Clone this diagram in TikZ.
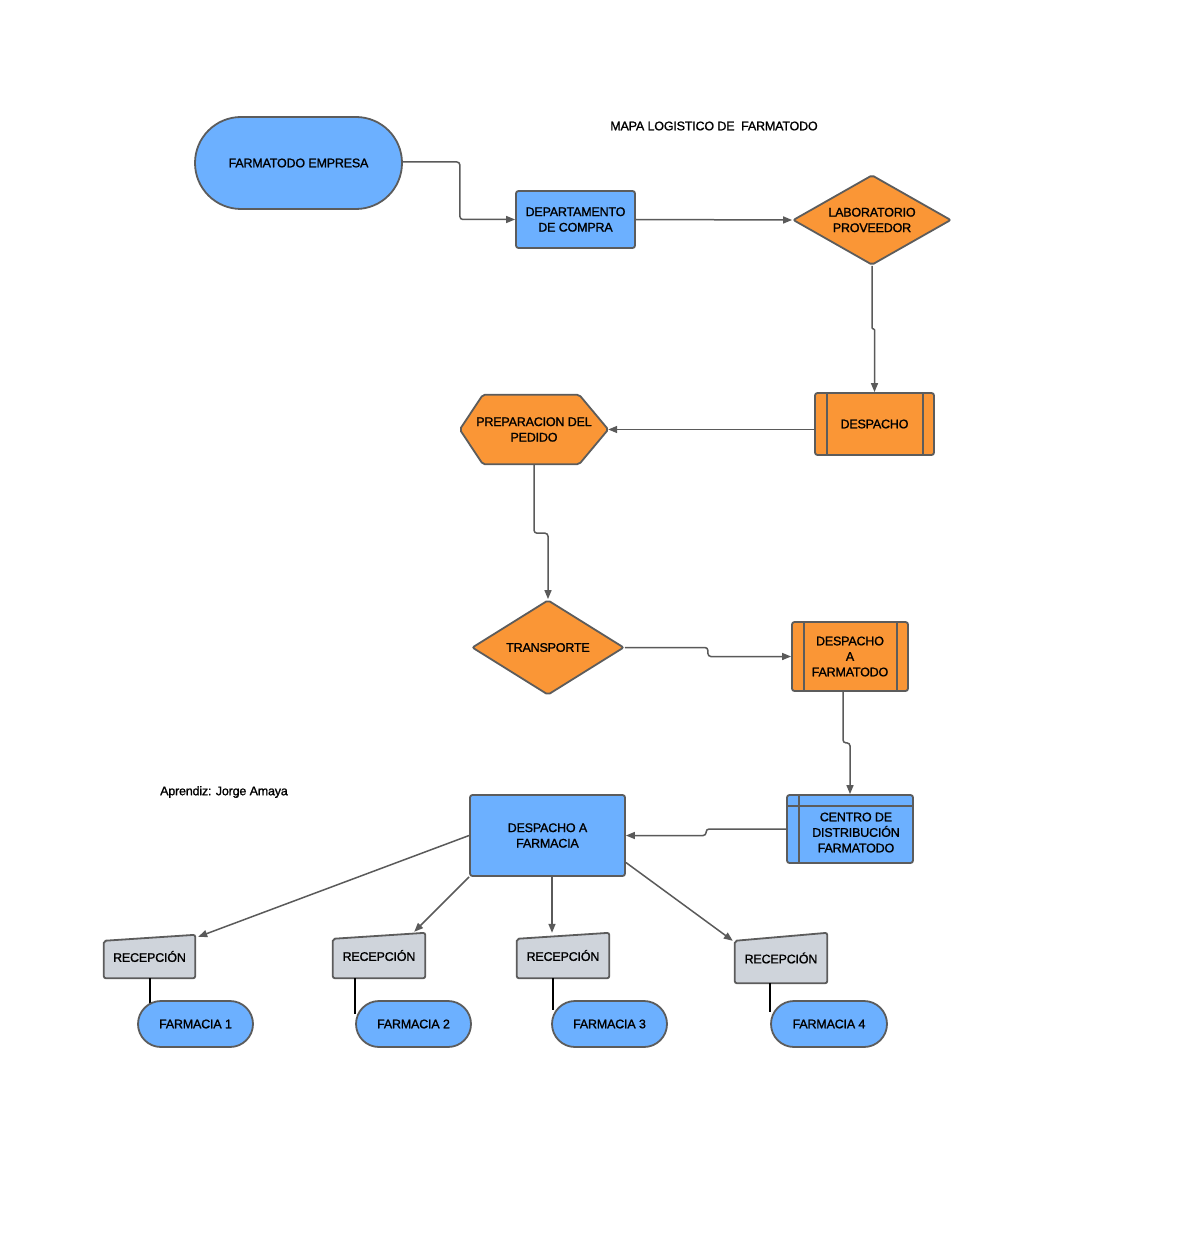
\documentclass[tikz,border=0pt]{standalone}
\usepackage{fontspec}
\setmainfont{Liberation Sans}[FakeBold=1.2,LetterSpace=-1.5]
\usetikzlibrary{shapes.geometric,arrows.meta,calc,backgrounds}
\definecolor{fblue}{HTML}{6CB0FF}
\definecolor{forange}{HTML}{FA9636}
\definecolor{fgray}{HTML}{CFD4DB}
\definecolor{edgec}{HTML}{5C5C5C}
\definecolor{linec}{HTML}{5A5A5A}
\begin{document}
\begin{tikzpicture}[x=1pt,y=-1pt,
  txt/.style={font=\fontsize{12.5}{15.5}\selectfont,align=center,inner sep=0pt},
  base/.style={txt,draw=edgec,line width=1.8pt},
  stadium/.style={base,fill=fblue,rectangle,rounded corners=#1},
  bluebox/.style={base,fill=fblue,rectangle,rounded corners=2.5pt},
  orangebox/.style={base,fill=forange,rectangle,rounded corners=2.5pt},
  odiamond/.style={base,fill=forange,diamond,rounded corners=2pt},
  shapeline/.style={draw=edgec,line width=1.8pt},
  recshape/.style={draw=edgec,line width=1.8pt,fill=fgray,rounded corners=2pt},
  conn/.style={draw=linec,line width=1.5pt,rounded corners=3pt},
  arr/.style={conn,-{Triangle[length=9pt,width=7pt]}},
  blk/.style={draw=black,line width=2pt}
]
\begin{scope}[on background layer]
\fill[white] (0,0) rectangle (1200,1249);
\end{scope}
\useasboundingbox (0,0) rectangle (1200,1249);

% title and author
\node[txt] (title) at (714,126) {MAPA LOGISTICO DE\ \ FARMATODO};
\node[txt] (author) at (224,792) {Aprendiz: Jorge Amaya};

% nodes
\node[stadium=46pt,minimum width=207pt,minimum height=92pt] (emp) at (298.5,163) {FARMATODO EMPRESA};
\node[bluebox,minimum width=119pt,minimum height=57pt] (dc) at (575.5,219.5) {DEPARTAMENTO\\DE COMPRA};
\node[odiamond,aspect=1.76,minimum width=158pt,minimum height=90pt] (lab) at (872,220) {LABORATORIO\\PROVEEDOR};
\node[orangebox,minimum width=119pt,minimum height=62pt] (desp) at (874.5,424) {DESPACHO};
\node[txt,minimum width=148pt,minimum height=69pt] (prep) at (534,429.5) {PREPARACION DEL\\PEDIDO};
\node[odiamond,aspect=1.6,minimum width=152pt,minimum height=95pt] (trans) at (548,647.5) {TRANSPORTE};
\node[orangebox,minimum width=116pt,minimum height=69pt] (daf) at (850,656.5) {DESPACHO\\A\\FARMATODO};
\node[bluebox,minimum width=126pt,minimum height=68pt] (cd) at (850,829) {};
\node[txt] (cdt) at (856,832.5) {CENTRO DE\\DISTRIBUCIÓN\\FARMATODO};
\node[bluebox,minimum width=155pt,minimum height=81pt] (dfar) at (547.5,835.5) {DESPACHO A\\FARMACIA};

% recepcion nodes (text only; outline drawn below)
\node[txt,minimum width=91pt,minimum height=43pt] (r1) at (149.5,956.5) {RECEPCIÓN};
\node[txt,minimum width=92pt,minimum height=45pt] (r2) at (379,955.5) {RECEPCIÓN};
\node[txt,minimum width=92pt,minimum height=45pt] (r3) at (563,955.5) {RECEPCIÓN};
\node[txt,minimum width=92pt,minimum height=50pt] (r4) at (781,958) {RECEPCIÓN};

% farmacias
\node[stadium=23pt,minimum width=115pt,minimum height=46pt] (f1) at (195.5,1024) {FARMACIA 1};
\node[stadium=23pt,minimum width=115pt,minimum height=46pt] (f2) at (413.5,1024) {FARMACIA 2};
\node[stadium=23pt,minimum width=115pt,minimum height=46pt] (f3) at (609.5,1024) {FARMACIA 3};
\node[stadium=23pt,minimum width=116pt,minimum height=46pt] (f4) at (829,1024) {FARMACIA 4};

\begin{scope}[on background layer]
% hexagon outline
\draw[shapeline,fill=forange,rounded corners=2pt]
  (prep.west) -- ($(prep.north west)+(23,0)$) -- ($(prep.north east)+(-29,0)$) -- (prep.east)
  -- ($(prep.south east)+(-29,0)$) -- ($(prep.south west)+(23,0)$) -- cycle;
% recepcion outlines
\foreach \r/\d in {r1/6,r2/6,r3/6,r4/8}{
  \draw[recshape] (\r.south west) -- ($(\r.north west)+(0,\d)$) -- (\r.north east) -- (\r.south east) -- cycle;
}
% black links recepcion -> farmacia
\draw[blk] ($(r1.south west)+(46,0)$) -- ++(0,30);
\draw[blk] ($(r2.south west)+(22,0)$) -- ++(0,36);
\draw[blk] ($(r3.south west)+(36,0)$) -- ++(0,32);
\draw[blk] ($(r4.south west)+(35,0)$) -- ++(0,29);
\end{scope}

% inner lines of process boxes
\draw[shapeline] ($(desp.north west)+(13,0)$) -- ($(desp.south west)+(13,0)$);
\draw[shapeline] ($(desp.north east)+(-12,0)$) -- ($(desp.south east)+(-12,0)$);
\draw[shapeline] ($(daf.north west)+(13,0)$) -- ($(daf.south west)+(13,0)$);
\draw[shapeline] ($(daf.north east)+(-12,0)$) -- ($(daf.south east)+(-12,0)$);
% internal storage lines
\draw[shapeline] ($(cd.north west)+(0,12)$) -- ($(cd.north east)+(0,12)$);
\draw[shapeline] ($(cd.north west)+(13,0)$) -- ($(cd.south west)+(13,0)$);

% connectors
\draw[arr] ($(emp.east)+(0,-1)$) -- ++(57,0) |- (dc.west);
\draw[arr] (dc.east) -- (lab.west);
\draw[arr,rounded corners=1pt] (lab.south) -- ++(0,63) -| (desp.north);
\draw[arr] (prep.east -| desp.west) -- (prep.east);
\draw[arr] (prep.south) -- ++(0,69) -| (trans.north);
\draw[arr] (trans.east) -- ++(83,0) |- (daf.west);
\draw[arr] ($(daf.south)+(-7,0)$) -- ++(0,51) -| (cd.north);
\draw[arr] (cd.west) -- ++(-80,0) |- (dfar.east);
\draw[arr] (dfar.west) -- ($(r1.north east)+(3,2)$);
\draw[arr] (dfar.south west) -- ($(r2.north east)+(-11,-1)$);
\draw[arr] ($(dfar.south)+(4.5,0)$) coordinate (t3) -- (t3 |- r3.north);
\draw[arr] ($(dfar.east)+(0,27)$) -- ($(r4.north west)+(-2,8)$);
\end{tikzpicture}
\end{document}
